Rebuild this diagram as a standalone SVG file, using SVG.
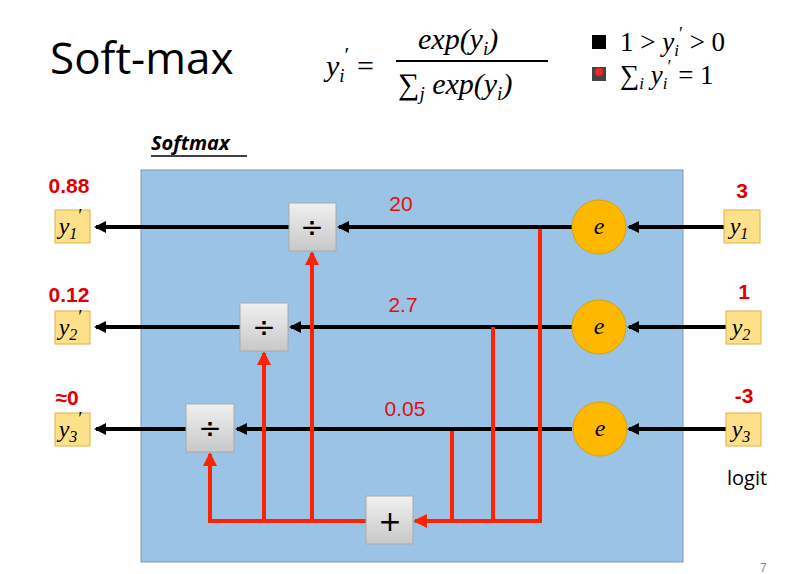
<svg xmlns="http://www.w3.org/2000/svg" width="796" height="574" viewBox="0 0 796 574">
<defs>
<marker id="ab" markerWidth="12" markerHeight="12" refX="10" refY="6" orient="auto" markerUnits="userSpaceOnUse" viewBox="0 0 12 12"><path d="M0,0 L12,6 L0,12 z" fill="#000"/></marker>
<marker id="ar" markerWidth="14" markerHeight="14" refX="12" refY="7" orient="auto" markerUnits="userSpaceOnUse" viewBox="0 0 14 14"><path d="M0,0 L14,7 L0,14 z" fill="#ff2200"/></marker>
<linearGradient id="g" x1="0" y1="0" x2="0" y2="1"><stop offset="0" stop-color="#f0f0f0"/><stop offset="1" stop-color="#c8c8c8"/></linearGradient>
</defs>
<style>
.blk{stroke:#000;stroke-width:4;fill:none;marker-end:url(#ab)}
.red{stroke:#ff2200;stroke-width:4;fill:none}
.redA{stroke:#ff2200;stroke-width:4;fill:none;marker-end:url(#ar)}
.op{fill:url(#g);stroke:#aaa;stroke-width:1}
.opt{font-family:'DejaVu Sans',sans-serif;font-size:28px;text-anchor:middle}
.circ{fill:#ffb800;stroke:#d9a000}
.et{font-family:'Liberation Serif',serif;font-style:italic;font-size:24px;text-anchor:middle}
.yb{fill:#ffe08a;stroke:#e0b040}
.yt{font-family:'Liberation Serif',serif;font-style:italic;font-size:24px;text-anchor:middle}
.val{font-family:'Liberation Sans',sans-serif;font-weight:bold;font-size:21px;fill:#e00000;text-anchor:middle}
.lab{font-family:'Liberation Sans',sans-serif;font-size:21px;fill:#e01010;text-anchor:middle}
.m{font-family:'Liberation Serif',serif;font-style:italic;font-size:30px}
</style>
<rect width="796" height="574" fill="#fff"/>
<text x="50" y="74" font-family="'Open Sans',sans-serif" font-size="44">Soft-max</text>
<text x="326" y="76" class="m">y<tspan font-size="19" dy="6">i</tspan><tspan dy="-20" font-size="22" font-style="normal">′</tspan><tspan dy="14" font-style="normal"> =</tspan></text>
<text x="418" y="49" class="m">exp(y<tspan font-size="19" dy="6">i</tspan><tspan dy="-6">)</tspan></text>
<line x1="396" y1="61" x2="548" y2="61" stroke="#000" stroke-width="2"/>
<text x="398" y="94" class="m"><tspan font-style="normal">∑</tspan><tspan font-size="19" dy="6">j</tspan><tspan dy="-6"> exp(y</tspan><tspan font-size="19" dy="6">i</tspan><tspan dy="-6">)</tspan></text>
<rect x="592" y="35" width="14" height="14" fill="#000"/>
<text x="620" y="51" font-family="'Liberation Serif',serif" font-size="27">1 &gt; <tspan font-style="italic">y</tspan><tspan font-size="17" font-style="italic" dy="5">i</tspan><tspan dy="-16" font-size="18">′</tspan><tspan dy="11"> &gt; 0</tspan></text>
<rect x="592" y="67" width="14" height="14" fill="#444"/><circle cx="599" cy="72" r="4" fill="#ff2020"/>
<text x="620" y="84" font-family="'Liberation Serif',serif" font-size="27">∑<tspan font-size="17" font-style="italic" dy="5">i</tspan><tspan dy="-5" font-style="italic"> y</tspan><tspan font-size="17" font-style="italic" dy="5">i</tspan><tspan dy="-16" font-size="18">′</tspan><tspan dy="11"> = 1</tspan></text>
<text x="151" y="150" font-family="'Open Sans',sans-serif" font-size="20" font-weight="bold" font-style="italic">Softmax</text>
<line x1="151" y1="156" x2="247" y2="156" stroke="#000" stroke-width="1.5"/>
<rect x="141" y="170" width="542" height="392" fill="#9ac3e6" stroke="#7a9ab8"/>
<g id="connectors">
<line class="blk" x1="724" y1="227" x2="629" y2="227"/>
<line class="blk" x1="726" y1="327" x2="629" y2="327"/>
<line class="blk" x1="726" y1="429" x2="629" y2="429"/>
<line class="blk" x1="572" y1="227" x2="339" y2="227"/>
<line class="blk" x1="572" y1="327" x2="291" y2="327"/>
<line class="blk" x1="572" y1="429" x2="237" y2="429"/>
<line class="blk" x1="289" y1="227" x2="96" y2="227"/>
<line class="blk" x1="240" y1="327" x2="96" y2="327"/>
<line class="blk" x1="186" y1="429" x2="96" y2="429"/>
<polyline class="red" points="540,229 540,521 452,521"/>
<line class="red" x1="493" y1="327" x2="493" y2="521"/>
<line class="red" x1="452" y1="431" x2="452" y2="521"/>
<line class="redA" x1="452" y1="521" x2="415" y2="521"/>
<polyline class="redA" points="366,521 210,521 210,454"/>
<line class="redA" x1="264" y1="519" x2="264" y2="353"/>
<line class="redA" x1="312" y1="519" x2="312" y2="253"/>
</g>
<text class="lab" x="401" y="211">20</text>
<text class="lab" x="403" y="312">2.7</text>
<text class="lab" x="405" y="416">0.05</text>
<g id="div1"><rect class="op" x="289" y="203" width="47" height="48"/><text class="opt" x="312" y="237">÷</text></g>
<g id="div2"><rect class="op" x="240" y="303" width="48" height="48"/><text class="opt" x="264" y="337">÷</text></g>
<g id="div3"><rect class="op" x="186" y="404" width="48" height="48"/><text class="opt" x="210" y="438">÷</text></g>
<g id="plus"><rect class="op" x="366" y="496" width="47" height="48"/><text class="opt" x="390" y="531">+</text></g>
<g id="e1"><circle class="circ" cx="599" cy="227" r="27"/><text class="et" x="599" y="234">e</text></g>
<g id="e2"><circle class="circ" cx="599" cy="327" r="27"/><text class="et" x="599" y="334">e</text></g>
<g id="e3"><circle class="circ" cx="600" cy="429" r="27"/><text class="et" x="600" y="436">e</text></g>
<g id="in1"><text class="val" x="742" y="198">3</text><rect class="yb" x="724" y="210" width="36" height="33"/><text class="yt" x="739" y="234">y<tspan font-size="16" dy="5">1</tspan></text></g>
<g id="in2"><text class="val" x="744" y="299">1</text><rect class="yb" x="726" y="311" width="35" height="33"/><text class="yt" x="741" y="335">y<tspan font-size="16" dy="5">2</tspan></text></g>
<g id="in3"><text class="val" x="744" y="403">-3</text><rect class="yb" x="726" y="413" width="35" height="33"/><text class="yt" x="741" y="437">y<tspan font-size="16" dy="5">3</tspan></text></g>
<text x="747" y="485" font-family="'Open Sans',sans-serif" font-size="20" text-anchor="middle">logit</text>
<g id="out1"><text class="val" x="69" y="193">0.88</text><rect class="yb" x="55" y="210" width="35" height="33"/><text class="yt" x="70" y="234">y<tspan font-size="16" dy="5">1</tspan><tspan font-size="18" dy="-17">′</tspan></text></g>
<g id="out2"><text class="val" x="69" y="302">0.12</text><rect class="yb" x="55" y="311" width="35" height="33"/><text class="yt" x="70" y="335">y<tspan font-size="16" dy="5">2</tspan><tspan font-size="18" dy="-17">′</tspan></text></g>
<g id="out3"><text class="val" x="67" y="405">≈0</text><rect class="yb" x="55" y="413" width="35" height="33"/><text class="yt" x="70" y="437">y<tspan font-size="16" dy="5">3</tspan><tspan font-size="18" dy="-17">′</tspan></text></g>
<text x="760" y="572" font-family="'Liberation Sans',sans-serif" font-size="12" fill="#888">7</text>
</svg>
